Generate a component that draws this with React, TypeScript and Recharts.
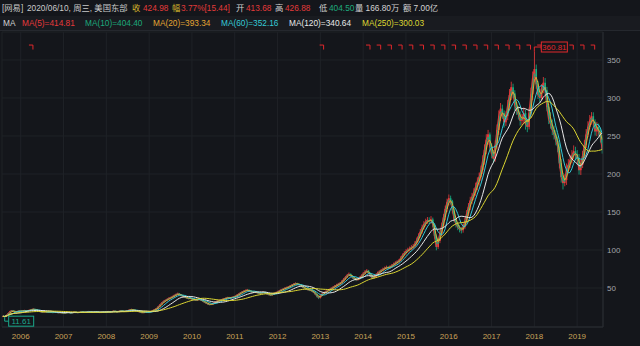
import React from 'react';
import {
  ComposedChart,
  Bar,
  Line,
  XAxis,
  YAxis,
  CartesianGrid,
  ReferenceDot,
} from 'recharts';

// half-month samples, first one = first half of Aug 2005
const START_YEAR = 2005;
const START_MONTH = 8;
const FIRST_OPEN = 12.5;

const closes = [
  // 2005 (Aug-Dec)
  12.8, 12.4, 14.5, 16.8, 19.5, 20.2, 19.0, 18.6, 19.4, 19.8,
  // 2006
  19.5, 20.1, 20.6, 19.8, 20.4, 21.0, 21.8, 22.4, 21.6, 20.5, 19.4, 18.6, 18.2, 18.9, 18.4, 17.8, 18.3, 18.0, 17.6, 18.2, 17.9, 17.4, 17.8, 17.3,
  // 2007
  17.0, 17.4, 18.1, 17.6, 17.2, 17.9, 18.5, 18.0, 17.6, 18.3, 18.9, 18.4, 17.8, 18.6, 19.2, 18.5, 17.9, 18.4, 19.0, 18.2, 17.6, 18.1, 18.7, 18.3,
  // 2008
  18.8, 19.3, 18.6, 19.1, 19.8, 19.2, 18.7, 19.5, 20.2, 19.6, 19.0, 19.8, 20.5, 21.3, 22.0, 21.2, 20.4, 19.6, 18.8, 18.1, 17.4, 17.9, 18.3, 17.8,
  // 2009
  18.5, 19.4, 20.6, 21.8, 23.0, 25.5, 28.0, 30.6, 32.4, 33.8, 35.2, 36.6, 37.4, 38.8, 40.2, 41.5, 42.6, 41.2, 39.8, 38.5, 37.6, 36.8, 36.0, 36.4,
  // 2010
  35.2, 34.5, 33.8, 34.6, 35.3, 34.0, 32.5, 31.0, 29.8, 28.6, 28.0, 28.8, 30.2, 31.5, 32.8, 33.6, 34.4, 35.2, 36.0, 36.8, 37.5, 36.9, 37.6, 38.2,
  // 2011
  39.0, 40.5, 42.0, 43.5, 44.8, 45.9, 46.8, 47.5, 46.2, 45.0, 44.2, 45.1, 44.0, 43.2, 42.6, 43.8, 44.6, 43.4, 42.0, 41.2, 40.6, 41.5, 42.8, 44.0,
  // 2012
  45.2, 46.5, 47.8, 48.6, 49.8, 50.6, 51.5, 52.8, 54.0, 55.2, 56.0, 55.4, 54.2, 52.6, 51.0, 49.6, 48.4, 47.6, 47.0, 46.2, 44.5, 42.0, 39.0, 37.0,
  // 2013
  40.0, 42.5, 44.0, 45.5, 46.8, 48.0, 49.5, 51.0, 52.5, 54.0, 55.2, 56.5, 58.8, 61.5, 64.2, 66.8, 68.5, 66.0, 63.5, 61.8, 60.5, 61.6, 63.8, 66.4,
  // 2014
  69.0, 71.5, 72.8, 69.5, 65.8, 63.2, 64.5, 67.0, 69.8, 71.5, 73.2, 74.8, 76.2, 77.5, 76.4, 78.0, 79.6, 81.4, 83.2, 84.5, 86.0, 89.5, 93.0, 96.0,
  // 2015
  98.5, 100.2, 101.8, 103.5, 105.0, 108.5, 113.0, 118.5, 124.0, 129.5, 134.0, 137.2, 139.5, 138.0, 140.2, 133.0, 118.0, 104.0, 112.0, 122.0, 132.0, 143.0, 154.0, 163.0,
  // 2016
  168.0, 164.0, 152.0, 140.0, 134.0, 130.0, 127.0, 126.0, 130.0, 138.0, 148.0, 157.0, 165.0, 170.0, 176.0, 183.0, 190.0, 196.0, 205.0, 218.0, 232.0, 245.0, 252.0, 236.0,
  // 2017
  226.0, 220.0, 238.0, 258.0, 276.0, 286.0, 280.0, 268.0, 276.0, 290.0, 304.0, 314.0, 306.0, 290.0, 284.0, 278.0, 270.0, 272.0, 280.0, 266.0, 262.0, 280.0, 305.0, 326.0,
  // 2018
  338.0, 318.0, 304.0, 300.0, 312.0, 320.0, 310.0, 288.0, 272.0, 266.0, 258.0, 252.0, 244.0, 236.0, 214.0, 196.0, 188.0, 192.0, 206.0, 212.0, 218.0, 224.0, 230.0, 226.0,
  // 2019 (Jan-Aug)
  220.0, 205.0, 212.0, 224.0, 238.0, 252.0, 262.0, 270.0, 276.0, 268.0, 256.0, 262.0, 255.0, 248.0, 232.0,
];

const highs = [
  13.5, 13.1, 14.9, 17.3, 20.1, 21.0, 20.6, 19.4, 19.9, 20.4,
  20.3, 20.6, 21.2, 21.0, 20.9, 21.5, 22.3, 23.0, 22.8, 21.9, 20.8, 19.8, 19.0, 19.4, 19.2, 18.7, 18.8, 18.7, 18.4, 18.7, 18.6, 18.3, 18.3, 18.1,
  17.6, 17.8, 18.5, 18.4, 17.9, 18.3, 18.9, 18.8, 18.3, 18.7, 19.3, 19.2, 18.6, 19.0, 19.7, 19.4, 18.8, 18.8, 19.5, 19.3, 18.5, 18.5, 19.1, 19.0,
  19.2, 19.8, 19.5, 19.5, 20.3, 20.1, 19.4, 19.9, 20.7, 20.4, 19.8, 20.2, 20.9, 21.8, 22.6, 22.3, 21.5, 20.7, 19.9, 19.2, 18.5, 18.4, 18.9, 18.6,
  18.9, 19.9, 21.1, 22.4, 23.7, 26.3, 28.9, 31.6, 33.5, 34.8, 36.3, 37.8, 38.6, 39.9, 41.4, 42.8, 44.0, 43.3, 41.9, 40.4, 39.2, 38.3, 37.4, 37.5,
  36.8, 35.9, 35.1, 35.4, 36.2, 35.9, 34.6, 33.1, 31.6, 30.4, 29.3, 29.8, 31.1, 32.4, 33.7, 34.5, 35.3, 36.1, 36.9, 37.7, 38.5, 38.3, 38.4, 39.1,
  39.9, 41.4, 43.0, 44.5, 45.8, 47.0, 48.0, 48.8, 48.2, 46.9, 45.8, 46.2, 45.8, 44.6, 43.8, 44.8, 45.7, 45.3, 43.9, 42.6, 41.8, 42.4, 43.8, 45.0,
  46.3, 47.6, 48.9, 49.8, 51.0, 51.8, 52.7, 54.0, 55.3, 56.5, 57.4, 56.9, 55.9, 54.6, 53.0, 51.3, 50.0, 48.9, 48.2, 47.6, 46.8, 45.0, 42.4, 39.6,
  41.2, 43.8, 45.3, 46.8, 48.1, 49.3, 50.9, 52.4, 54.0, 55.5, 56.8, 58.0, 60.4, 63.2, 66.0, 68.6, 70.4, 69.3, 66.8, 64.3, 62.6, 63.0, 65.3, 68.0,
  71.0, 73.6, 75.0, 73.8, 70.4, 66.9, 66.2, 68.8, 71.6, 73.4, 75.1, 76.8, 78.2, 79.5, 78.9, 79.9, 81.6, 83.4, 85.3, 86.7, 88.3, 91.8, 95.5, 98.6,
  101.2, 103.0, 104.6, 106.4, 108.0, 111.6, 116.4, 122.0, 127.8, 133.4, 138.0, 141.2, 143.4, 143.0, 144.6, 142.6, 135.2, 120.5, 115.6, 125.8, 136.0, 147.2, 158.4, 167.6,
  173.0, 171.5, 166.0, 154.5, 142.6, 136.8, 132.8, 130.4, 134.6, 142.8, 152.6, 161.8, 170.0, 175.2, 181.2, 188.6, 195.6, 201.8, 211.0, 224.6, 239.0, 252.4, 258.0, 254.6,
  240.4, 231.6, 244.2, 265.2, 283.6, 293.4, 291.2, 283.6, 282.4, 297.6, 311.8, 321.4, 318.8, 310.2, 294.6, 288.8, 282.4, 279.2, 287.6, 284.6, 272.0, 287.4, 313.6, 334.8,
  360.81, 344.0, 322.4, 312.6, 318.4, 327.6, 326.2, 314.6, 292.2, 281.2, 271.6, 263.8, 257.6, 249.2, 240.4, 219.6, 201.4, 199.6, 213.8, 219.6, 225.2, 231.4, 237.6, 235.8,
  231.4, 226.2, 218.6, 230.4, 244.8, 259.2, 269.4, 277.6, 281.4, 281.2, 271.8, 268.6, 266.4, 258.6, 251.2,
];

const lows = [
  12.0, 11.61, 12.2, 14.2, 16.5, 19.1, 18.6, 18.1, 18.3, 19.0,
  19.0, 19.1, 19.7, 19.4, 19.5, 20.0, 20.6, 21.3, 21.2, 20.1, 19.0, 18.2, 17.8, 17.9, 18.0, 17.4, 17.5, 17.6, 17.1, 17.3, 17.5, 17.0, 17.1, 16.9,
  16.6, 16.8, 17.2, 17.2, 16.8, 17.0, 17.7, 17.6, 17.2, 17.4, 18.1, 18.0, 17.4, 17.6, 18.4, 18.1, 17.5, 17.7, 18.2, 17.8, 17.2, 17.4, 17.9, 17.9,
  18.0, 18.5, 18.2, 18.4, 18.8, 18.8, 18.3, 18.5, 19.2, 19.2, 18.6, 18.8, 19.6, 20.2, 21.0, 20.8, 20.0, 19.1, 18.3, 17.5, 16.9, 17.0, 17.6, 17.3,
  17.6, 18.2, 19.1, 20.2, 21.4, 22.6, 25.1, 27.7, 30.1, 31.9, 33.3, 34.9, 36.0, 36.8, 38.3, 39.7, 40.9, 40.4, 38.9, 37.6, 36.7, 35.9, 35.1, 35.3,
  34.3, 33.7, 32.9, 33.2, 34.0, 33.2, 31.7, 30.2, 29.0, 27.8, 27.3, 27.5, 28.4, 29.8, 31.0, 32.3, 33.1, 33.8, 34.6, 35.4, 36.2, 36.0, 36.3, 37.0,
  37.7, 38.6, 40.0, 41.4, 42.8, 44.1, 45.2, 46.0, 45.3, 44.1, 43.3, 43.6, 43.1, 42.4, 41.7, 42.0, 43.2, 42.6, 41.2, 40.3, 39.7, 40.0, 41.1, 42.3,
  44.0, 45.0, 46.2, 47.3, 48.2, 49.4, 50.2, 51.2, 52.4, 53.6, 54.7, 54.2, 53.0, 51.4, 49.8, 48.4, 47.3, 46.6, 45.9, 45.0, 43.3, 40.8, 37.6, 35.4,
  36.2, 39.3, 41.9, 43.2, 44.6, 45.9, 47.1, 48.6, 50.0, 51.5, 52.8, 54.0, 55.6, 57.8, 60.6, 63.2, 65.8, 64.6, 62.0, 60.2, 59.0, 59.6, 61.2, 63.0,
  65.6, 67.8, 70.2, 68.0, 64.2, 61.8, 62.0, 63.6, 66.0, 68.6, 70.2, 72.0, 73.6, 74.8, 74.6, 75.2, 77.0, 78.6, 80.4, 82.0, 83.4, 85.0, 88.4, 91.8,
  94.0, 96.2, 98.0, 99.8, 101.6, 103.2, 106.8, 111.0, 116.4, 121.6, 126.8, 131.0, 134.4, 134.2, 135.0, 130.4, 115.0, 99.6, 101.4, 109.0, 118.4, 128.6, 139.2, 149.8,
  158.6, 159.8, 148.0, 136.2, 129.6, 126.0, 123.2, 121.8, 122.8, 127.4, 135.0, 144.4, 152.6, 160.8, 165.6, 171.4, 178.6, 184.8, 190.6, 199.8, 212.2, 226.0, 238.4, 230.0,
  220.6, 214.4, 216.2, 232.4, 251.2, 269.6, 272.4, 261.0, 263.2, 270.8, 284.2, 297.4, 299.6, 283.4, 277.8, 271.6, 263.6, 264.2, 266.0, 258.4, 255.0, 258.6, 273.4, 297.0,
  321.8, 312.0, 298.6, 294.2, 296.8, 306.2, 303.4, 282.4, 265.6, 259.6, 251.2, 245.4, 237.8, 228.6, 207.4, 188.6, 179.6, 183.8, 185.6, 201.6, 207.8, 213.6, 219.4, 218.2,
  212.4, 199.2, 198.6, 207.8, 220.6, 234.2, 248.4, 258.6, 264.8, 262.2, 250.6, 249.8, 250.2, 241.4, 226.8,
];

const yearLabels = ['2006', '2007', '2008', '2009', '2010', '2011', '2012', '2013', '2014', '2015', '2016', '2017', '2018', '2019'];
const priceTicks = [50, 100, 150, 200, 250, 300, 350];

// dividend / event flags
const flagDates = [
  '2006/04/01', '2013/01/16',
  '2014/02/16', '2014/05/16', '2014/08/16', '2014/11/16',
  '2015/02/16', '2015/05/16', '2015/08/16', '2015/11/16',
  '2016/02/16', '2016/05/16', '2016/08/16', '2016/11/16',
  '2017/02/16', '2017/05/16', '2017/08/16', '2017/11/16',
  '2018/02/16', '2018/05/16', '2018/08/16', '2018/11/16',
  '2019/02/16', '2019/05/16',
];

const headerItems = [
  { x: 2, text: '[网易]', color: '#c9c9c9' },
  { x: 27, text: '2020/06/10, 周三, 美国东部', color: '#c9c9c9' },
  { x: 132, text: '收', color: '#d6b82c' },
  { x: 143, text: '424.98', color: '#e23a3a' },
  { x: 172, text: '幅', color: '#d6b82c' },
  { x: 181, text: '3.77%[15.44]', color: '#e23a3a' },
  { x: 236, text: '开', color: '#d2d2d2' },
  { x: 246, text: '413.68', color: '#e23a3a' },
  { x: 275, text: '高', color: '#d2d2d2' },
  { x: 285, text: '426.88', color: '#e23a3a' },
  { x: 319, text: '低', color: '#d2d2d2' },
  { x: 329, text: '404.50', color: '#1fa97c' },
  { x: 355, text: '量 166.80万', color: '#d2d2d2' },
  { x: 403, text: '额 7.00亿', color: '#d2d2d2' },
];

const maSpecs = [
  { key: 'ma5', win: 1, color: '#e5393b', legend: 'MA(5)=414.81', x: 22 },
  { key: 'ma10', win: 2, color: '#1ca87b', legend: 'MA(10)=404.40', x: 85 },
  { key: 'ma20', win: 3, color: '#e3a533', legend: 'MA(20)=393.34', x: 153 },
  { key: 'ma60', win: 6, color: '#35c9d6', legend: 'MA(60)=352.16', x: 221 },
  { key: 'ma120', win: 12, color: '#e8e8e8', legend: 'MA(120)=340.64', x: 289 },
  { key: 'ma250', win: 24, color: '#dcd632', legend: 'MA(250)=300.03', x: 362 },
];

const BG = '#14161b';
const UP = '#ee3b3b';
const DOWN = '#16b487';
const GRID = '#1f2227';
const FONT = '"Liberation Sans", "Noto Sans CJK SC", sans-serif';

const dates = closes.map((_, i) => {
  const m = START_MONTH - 1 + Math.floor(i / 2);
  const y = START_YEAR + Math.floor(m / 12);
  const mm = String((m % 12) + 1).padStart(2, '0');
  return `${y}/${mm}/${i % 2 ? '16' : '01'}`;
});

const movingAvg = (i: number, n: number) => {
  const s = Math.max(0, i - n + 1);
  let t = 0;
  for (let k = s; k <= i; k++) t += closes[k];
  return t / (i - s + 1);
};

const rows = dates.map((date, i) => {
  const r: any = {
    date,
    open: i === 0 ? FIRST_OPEN : closes[i - 1],
    close: closes[i],
    high: highs[i],
    low: lows[i],
  };
  maSpecs.forEach((m) => (r[m.key] = movingAvg(i, m.win)));
  return r;
});

const yearTicks = yearLabels.map((y) => `${y}/01/01`);

let peakIdx = 0;
let troughIdx = 0;
rows.forEach((r, i) => {
  if (r.high > rows[peakIdx].high) peakIdx = i;
  if (r.low < rows[troughIdx].low) troughIdx = i;
});
const peak = rows[peakIdx];
const trough = rows[troughIdx];

function Candle(props: any) {
  const { x, y, width, height, payload } = props;
  if (!payload || x == null || y == null) return null;
  const { open, close, high, low } = payload;
  const top0 = Math.min(y, y + height);
  const h = Math.abs(height);
  const span = high - low || 1;
  const py = (v: number) => top0 + ((high - v) / span) * h;
  const color = close >= open ? UP : DOWN;
  const cx = x + width / 2;
  const bt = py(Math.max(open, close));
  const bb = py(Math.min(open, close));
  const bw = Math.max(1, width * 0.8);
  return (
    <g>
      <line x1={cx} x2={cx} y1={top0} y2={top0 + h} stroke={color} strokeWidth={0.8} />
      <rect x={cx - bw / 2} y={bt} width={bw} height={Math.max(0.8, bb - bt)} fill={color} />
    </g>
  );
}

function Flag(props: any) {
  const { cx, cy } = props;
  return <path d={`M${cx - 2.5},${cy - 2} H${cx + 1.5} V${cy + 2.5}`} stroke="#e0282c" strokeWidth={1} fill="none" />;
}

function PeakLabel(props: any) {
  const { cx, cy } = props;
  const bx = cx + 7;
  const by = 42;
  return (
    <g>
      <path d={`M${cx},${cy} V${by + 5} H${bx}`} stroke="#e0282c" strokeWidth={1} fill="none" />
      <rect x={bx} y={by} width={26} height={10} fill={BG} stroke="#e0282c" strokeWidth={1} />
      <text x={bx + 13} y={by + 8} textAnchor="middle" fill="#e0282c" fontSize={8} fontFamily={FONT}>
        {peak.high.toFixed(2)}
      </text>
    </g>
  );
}

function TroughLabel(props: any) {
  const { cx, cy } = props;
  const bx = cx + 4;
  const by = cy - 1;
  return (
    <g>
      <path d={`M${cx},${cy} V${by + 5} H${bx}`} stroke="#1aa88a" strokeWidth={1} fill="none" />
      <rect x={bx} y={by} width={25} height={10} fill={BG} stroke="#1aa88a" strokeWidth={1} />
      <text x={bx + 12.5} y={by + 8} textAnchor="middle" fill="#1aa88a" fontSize={8} fontFamily={FONT}>
        {trough.low.toFixed(2)}
      </text>
    </g>
  );
}

export default function App() {
  return (
    <div style={{ position: 'fixed', left: 0, top: 0, width: 640, height: 346, background: BG, overflow: 'hidden', fontFamily: FONT }}>
      <div style={{ position: 'absolute', left: 0, top: 16, width: 640, height: 14, background: '#191b20', borderBottom: '1px solid #25282e' }} />
      {headerItems.map((h) => (
        <span key={h.x} style={{ position: 'absolute', left: h.x, top: 3, fontSize: 8.3, lineHeight: '10px', color: h.color, whiteSpace: 'nowrap' }}>
          {h.text}
        </span>
      ))}
      <span style={{ position: 'absolute', left: 3, top: 18, fontSize: 8.3, lineHeight: '10px', color: '#d2d2d2' }}>MA</span>
      {maSpecs.map((m) => (
        <span key={m.key} style={{ position: 'absolute', left: m.x, top: 18, fontSize: 8.3, lineHeight: '10px', color: m.color, whiteSpace: 'nowrap' }}>
          {m.legend}
        </span>
      ))}
      <div style={{ position: 'absolute', left: 0, top: 0 }}>
        <ComposedChart width={640} height={346} data={rows} margin={{ top: 32, right: 0, bottom: 0, left: 2 }} barCategoryGap={0}>
          <CartesianGrid stroke={GRID} strokeWidth={1} />
          <XAxis
            dataKey="date"
            ticks={yearTicks}
            interval={0}
            tickFormatter={(d: string) => d.slice(0, 4)}
            height={19}
            tickSize={0}
            tickMargin={6}
            tick={{ fill: '#c9a258', fontSize: 8, fontFamily: FONT }}
            axisLine={{ stroke: '#2a2d33' }}
            tickLine={false}
          />
          <YAxis
            orientation="right"
            width={37}
            domain={[-1.3, 386.8]}
            allowDataOverflow
            ticks={priceTicks}
            tickSize={0}
            tickMargin={4}
            tick={{ fill: '#a3a5a9', fontSize: 8, fontFamily: FONT, textAnchor: 'start' }}
            axisLine={{ stroke: '#2a2d33' }}
            tickLine={false}
          />
          <Bar dataKey={(d: any) => [d.low, d.high]} shape={Candle} isAnimationActive={false} />
          {maSpecs.map((m) => (
            <Line
              key={m.key}
              dataKey={m.key}
              type="linear"
              stroke={m.color}
              strokeWidth={1}
              dot={false}
              activeDot={false}
              isAnimationActive={false}
            />
          ))}
          {flagDates.map((d) => (
            <ReferenceDot key={d} x={d} y={367} r={2} shape={Flag} />
          ))}
          <ReferenceDot x={peak.date} y={peak.high} r={1} shape={PeakLabel} />
          <ReferenceDot x={trough.date} y={trough.low} r={1} shape={TroughLabel} />
        </ComposedChart>
      </div>
    </div>
  );
}
